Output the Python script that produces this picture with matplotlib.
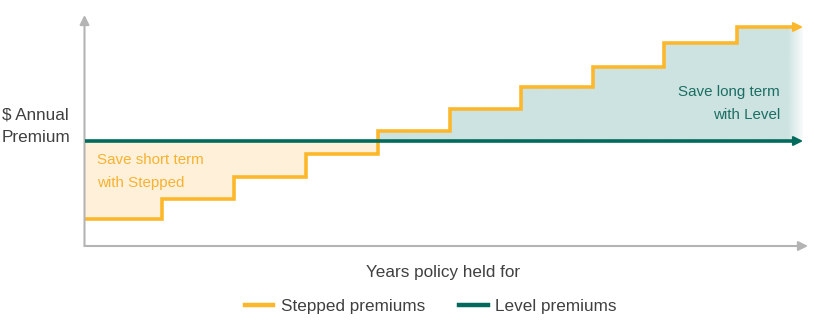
import numpy as np
import matplotlib.pyplot as plt
from matplotlib.lines import Line2D

plt.rcParams['font.family'] = ['Liberation Sans', 'DejaVu Sans']

# step edges (years) and stepped premium per period, level premium
edges = [0, 1.076, 2.076, 3.076, 4.076, 5.076, 6.06, 7.06, 8.05, 9.06, 9.98]
stepped = [2.7, 4.7, 6.9, 9.2, 11.5, 13.7, 15.9, 17.9, 20.3, 21.9]
level = 10.5
labels = ["Stepped premiums", "Level premiums"]

YELLOW = "#fdb72b"
TEAL = "#006b5c"
GRAY = "#b4b4b4"
TXT = "#404040"

fig = plt.figure(figsize=(8.14, 3.23), dpi=100)
ax = fig.add_axes([84.5 / 814, 1 - 246 / 323, (808 - 84.5) / 814, (246 - 15) / 323])

ys = stepped + [stepped[-1]]
cross = 4  # index where stepped goes above level

# save short term region
ax.fill_between(edges[:cross + 1], ys[:cross + 1], level, step='post',
                color="#fff1d9", lw=0, zorder=1)

# save long term region, fading out to the right
poly = ax.fill_between(edges[cross:], ys[cross:], level, step='post',
                       color="none", lw=0, zorder=1)
x0, x1 = edges[cross], edges[-1] + 0.04
n = 400
xx = np.linspace(x0, x1, n)
alpha = np.clip((x1 - xx) / 0.25, 0, 1)
grad = np.zeros((1, n, 4))
grad[..., 0], grad[..., 1], grad[..., 2] = 0xcd / 255, 0xe3 / 255, 0xe1 / 255
grad[..., 3] = alpha
im = ax.imshow(grad, extent=(x0, x1, level, max(stepped)), aspect='auto', zorder=1)
im.set_clip_path(poly.get_paths()[0], ax.transData)

# lines
ax.step(edges[:-1] + [edges[-1] - 0.1], ys[:-1] + [ys[-1]], where='post',
        color=YELLOW, lw=2.6, zorder=3, solid_joinstyle='miter')
ax.plot([0, edges[-1] - 0.1], [level, level], color=TEAL, lw=2.6, zorder=4)
for y, c in [(stepped[-1], YELLOW), (level, TEAL)]:
    ax.annotate('', xy=(edges[-1], y), xytext=(edges[-1] - 0.15, y),
                arrowprops=dict(arrowstyle='-|>', color=c, lw=1.5,
                                mutation_scale=14, shrinkA=0, shrinkB=0),
                zorder=5)

# axes with arrows
ax.annotate('', xy=(1, 0), xytext=(0, 0), xycoords='axes fraction',
            arrowprops=dict(arrowstyle='-|>', color=GRAY, lw=1.5,
                            mutation_scale=14, shrinkA=0, shrinkB=0))
ax.annotate('', xy=(0, 1), xytext=(0, 0), xycoords='axes fraction',
            arrowprops=dict(arrowstyle='-|>', color=GRAY, lw=1.5,
                            mutation_scale=14, shrinkA=0, shrinkB=0))

ax.set_xlim(0, 723.5 / 72)
ax.set_ylim(0, 23.1)
ax.axis('off')

# annotations
ax.text(0.17, 7.45, "Save short term\nwith Stepped", color="#f6b232",
        fontsize=10.9, va='center', ha='left', linespacing=1.75)
ax.text(9.66, 14.25, "Save long term\nwith Level", color="#1c6e63",
        fontsize=10.9, va='center', ha='right', linespacing=1.75)

fig.text(2 / 814, 1 - 126 / 323, "$ Annual\nPremium", color=TXT,
         fontsize=12.3, va='center', ha='left', linespacing=1.6)
fig.text(443 / 814, 1 - 273 / 323, "Years policy held for", color=TXT,
         fontsize=12.3, va='center', ha='center')

handles = [Line2D([], [], color=YELLOW, lw=3.2), Line2D([], [], color=TEAL, lw=3.2)]
leg = fig.legend(handles, labels, loc='center', bbox_to_anchor=(431 / 814, 1 - 306 / 323),
                 ncol=2, frameon=False, fontsize=12.3, handlelength=1.65,
                 handletextpad=0.45, columnspacing=2.0)
for t in leg.get_texts():
    t.set_color(TXT)

fig.savefig("out.png", dpi=100)
